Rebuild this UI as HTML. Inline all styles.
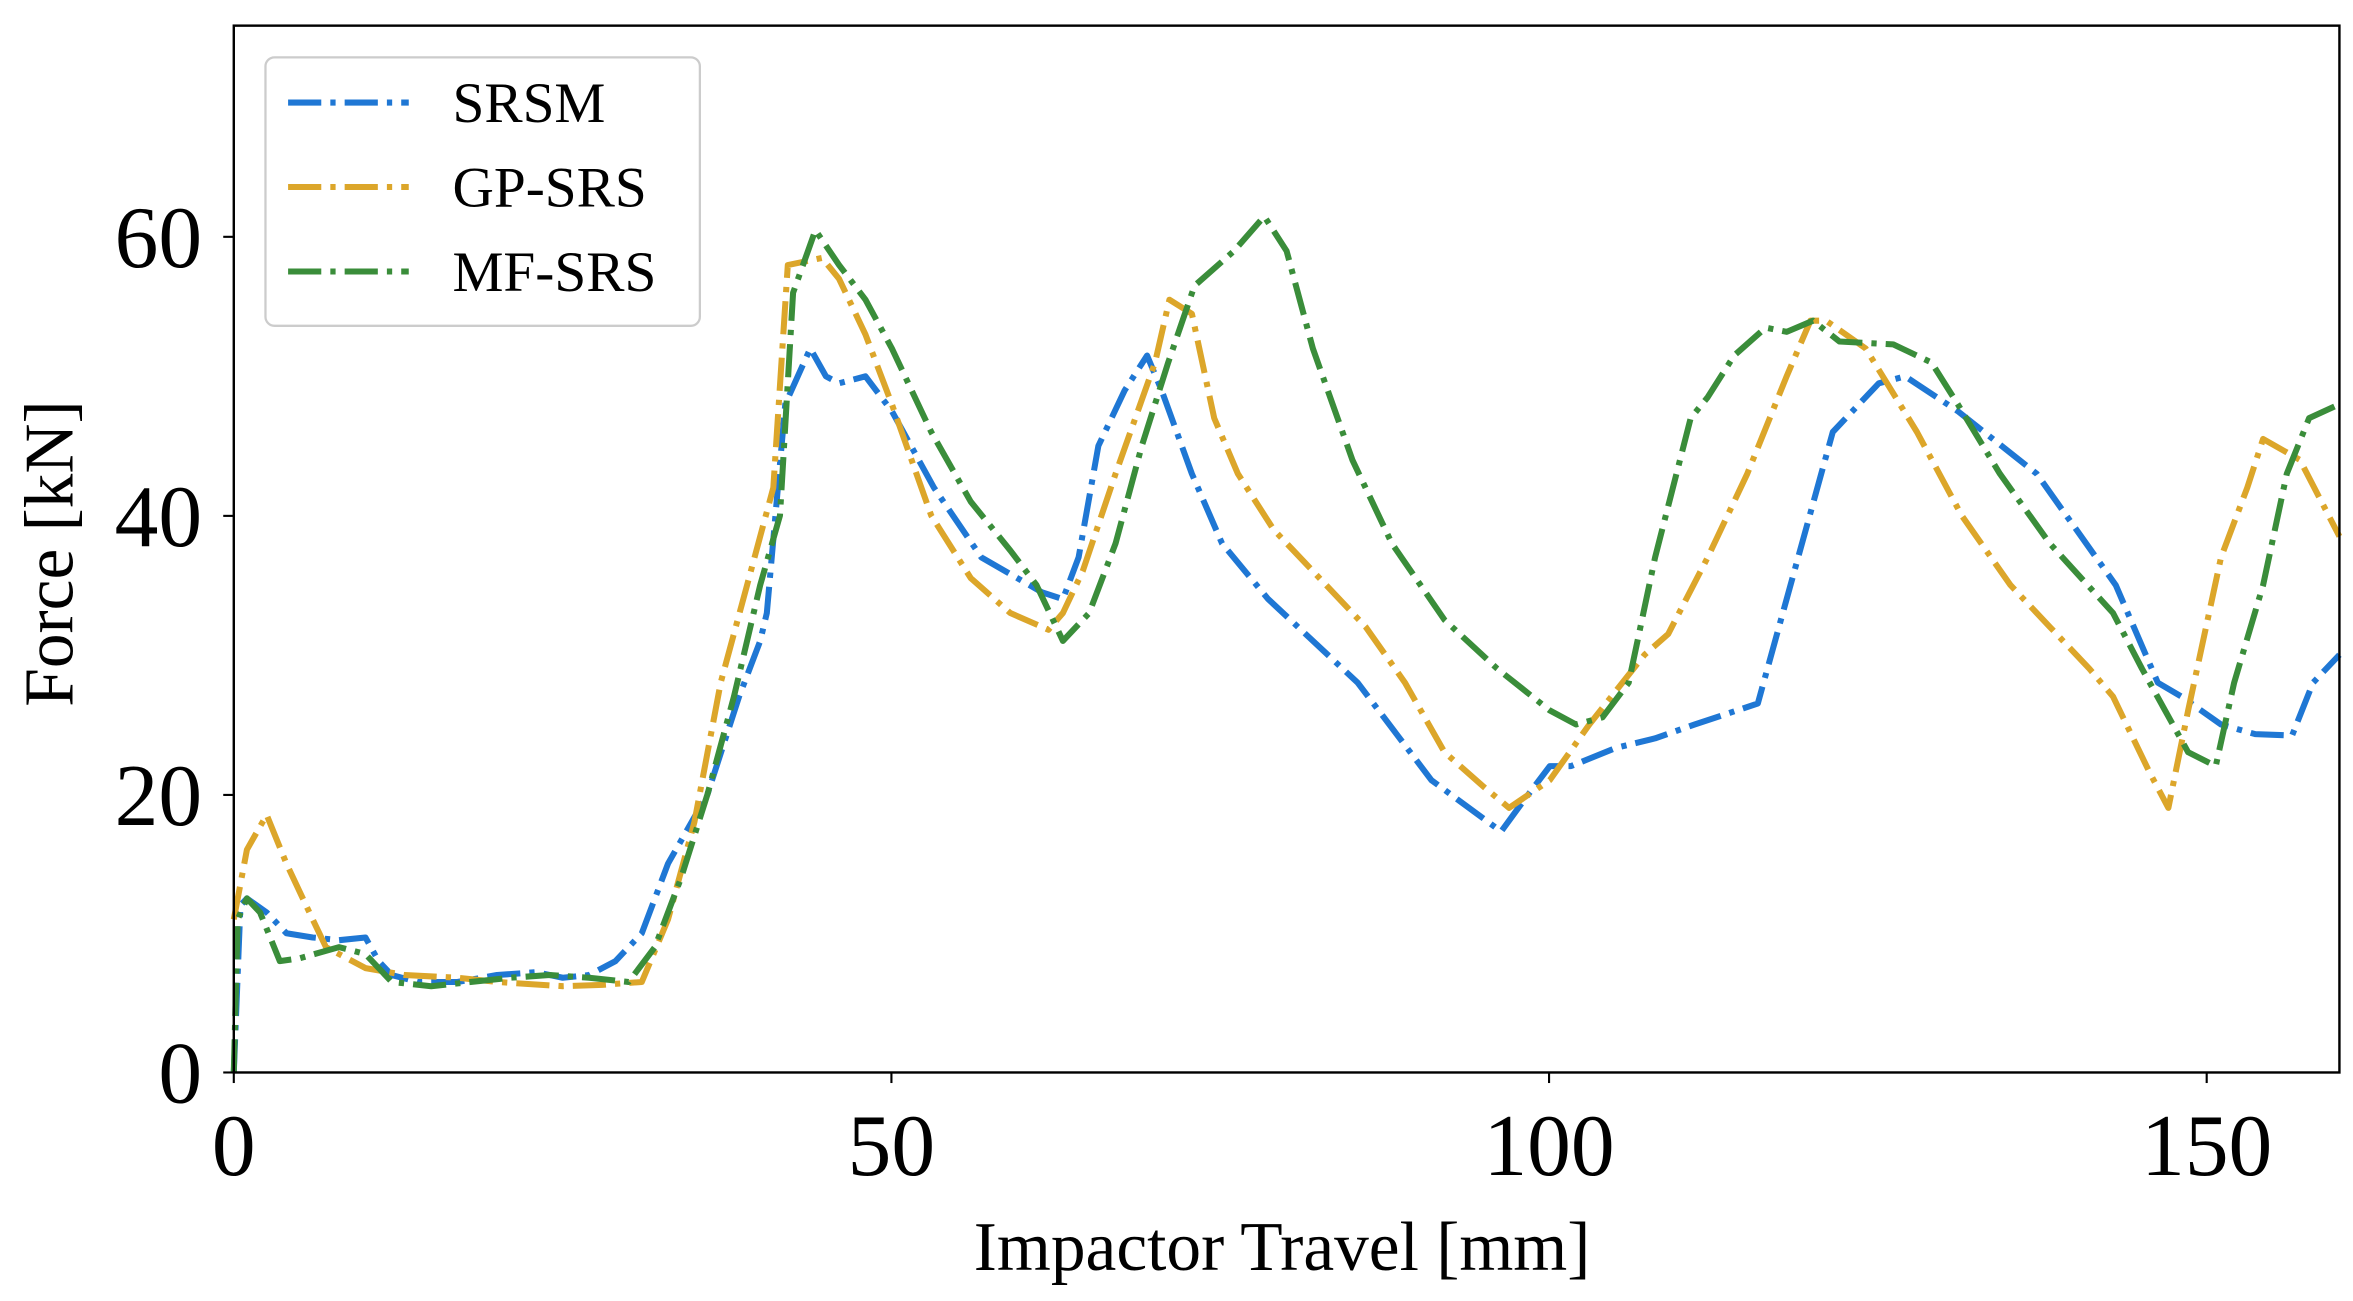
<!DOCTYPE html>
<html><head><meta charset="utf-8"><style>
html,body{margin:0;padding:0;background:#fff;}
svg{display:block;}
text{font-family:"Liberation Serif","DejaVu Serif",serif;fill:#000;}
</style></head><body>
<svg id="c" width="2353" height="1301" viewBox="0 0 1560 862.5" preserveAspectRatio="none" xmlns="http://www.w3.org/2000/svg">
<rect width="1560" height="862.5" fill="#fff"/>
<g id="series"></g>
<rect x="155" y="17" width="1396" height="694" fill="none" stroke="#000" stroke-width="1.6"/>
<g stroke="#000" stroke-width="1.4">
<line x1="155" y1="711" x2="155" y2="718"/><line x1="591" y1="711" x2="591" y2="718"/><line x1="1027" y1="711" x2="1027" y2="718"/><line x1="1463" y1="711" x2="1463" y2="718"/>
<line x1="148" y1="711" x2="155" y2="711"/><line x1="148" y1="527" x2="155" y2="527"/><line x1="148" y1="342" x2="155" y2="342"/><line x1="148" y1="157" x2="155" y2="157"/>
</g>
<g font-size="58" text-anchor="middle">
<text x="155" y="779">0</text><text x="591" y="779">50</text><text x="1027" y="779">100</text><text x="1463" y="779">150</text>
</g>
<g font-size="58" text-anchor="end">
<text x="134" y="731">0</text><text x="134" y="547">20</text><text x="134" y="362">40</text><text x="134" y="177">60</text>
</g>
<text x="850" y="842" font-size="46" text-anchor="middle">Impactor Travel [mm]</text>
<text transform="translate(48,367) rotate(-90)" font-size="46" text-anchor="middle">Force [kN]</text>
<rect x="176" y="38" width="288" height="178" rx="6" fill="#fff" fill-opacity="0.8" stroke="#ccc" stroke-width="1.5"/>
<g stroke-width="4" stroke-dasharray="22 6 3.5 6" fill="none">
<line x1="191" y1="68" x2="271" y2="68" stroke="#1f77d4"/>
<line x1="191" y1="124" x2="271" y2="124" stroke="#dca62a"/>
<line x1="191" y1="180" x2="271" y2="180" stroke="#3a8d3a"/>
</g>
<g font-size="38">
<text x="300" y="81">SRSM</text><text x="300" y="137">GP-SRS</text><text x="300" y="193">MF-SRS</text>
</g>
</svg>
<script>
var X=function(x){return 155+x*8.725},Y=function(y){return 711-y*9.23};
var S={
"#1f77d4":[[0,0],[0.5,12],[1,12.5],[2.5,11.5],[4,10],[6,9.7],[8,9.5],[10,9.7],[11,8],[12,7],[14,6.5],[17,6.5],[20,7],[23,7.2],[25,6.8],[27,7],[29,8],[31,10],[33,15],[36,20],[38.4,27],[40,31],[40.5,33],[41.9,48],[43.8,52],[45,50],[46,49.5],[48,50],[50,47.5],[53.2,42],[56.8,37],[61.4,34.5],[63,34],[64.2,37],[65.7,45],[67.7,49],[69.4,51.5],[70.5,49],[72.8,43],[75.1,38],[78.6,34],[85.4,28],[91,21],[96.3,17.3],[98,19.5],[100,22],[101.6,22],[105,23.3],[108,24],[111,25],[115.8,26.5],[118,34],[121.5,46],[125,49.5],[127,50],[131,47.5],[137,43],[143,35],[146.2,28],[148,27],[151,25],[153.6,24.3],[156.4,24.2],[158,28],[160,30]],
"#dca62a":[[0,11],[1,16],[2.5,18.5],[4,15],[6,11],[7,9],[10,7.5],[13,7],[17,6.8],[20,6.5],[25,6.2],[28,6.3],[31,6.5],[33,11],[35,18],[37,28],[39,35],[41,42],[42.1,58],[44.7,58.5],[46,57],[48,53],[50,48],[53,40],[56,35.5],[59,33],[61.9,31.8],[63,33],[64.5,36],[67,43],[70,51],[71.1,55.5],[72.8,54.5],[74.5,47],[76.3,43],[79,39],[83,35],[86,32],[89,28],[92,23],[95,20.5],[96.9,19],[100,21],[103,25],[107.2,30],[109,31.5],[112,37],[115,43],[118,50],[119.8,54],[121,54],[124,52],[127.9,46],[131.3,40],[135,35],[138,32],[141,29],[142.8,27],[145.6,21.5],[147,19],[148.5,26],[151,37],[153,42],[154.2,45.5],[157,44],[160,38.5]],
"#3a8d3a":[[0,0],[0.3,11],[1,12.5],[2,11.5],[3.5,8],[5,8.2],[8,9],[10,8.5],[12,6.5],[15,6.2],[18,6.5],[21,6.8],[24,7],[27,6.8],[30,6.5],[32,9],[34,14],[36,20],[38,27],[40,35],[41.5,40],[42.5,56],[44.2,60.5],[46,58],[48,55.5],[50,52],[53,46],[56,41],[59,37.5],[61,35],[63,31],[65,33],[67,38],[69,45],[71,51],[73,56.5],[76,59],[78.3,61.5],[80,59],[82,52],[85,44],[88,38],[92,32.5],[96,29],[100,26],[102,25],[104,25.5],[106,28],[108,37],[110.7,47],[112,48.5],[114,51.5],[116.4,53.5],[118,53.2],[120,54],[122,52.5],[126.1,52.3],[129,51],[131,48],[134.2,43],[138,38],[142.8,33],[145,29],[148.5,23],[150.6,22],[152,28],[154.2,35],[156,43],[157.7,47],[160,48]]
};
var g=document.getElementById("series"),h="";
for(var c in S){var d=S[c].map(function(p,i){return(i?"L":"M")+X(p[0]).toFixed(1)+" "+Y(p[1]).toFixed(1)}).join("");
h+='<path d="'+d+'" fill="none" stroke="'+c+'" stroke-width="4" stroke-dasharray="22 6 3.5 6" stroke-linejoin="round"/>';}
g.innerHTML=h;
</script>
</body></html>
